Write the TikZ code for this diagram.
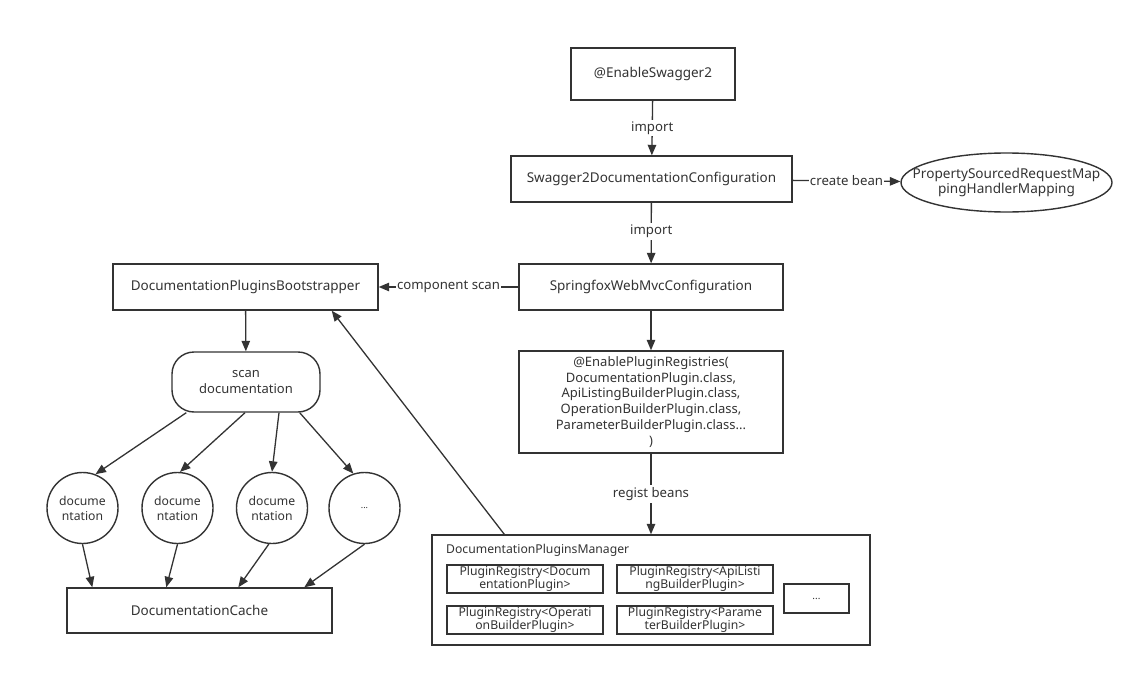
\documentclass[tikz,border=0pt]{standalone}
\usepackage{fontspec}
\setmainfont{Noto Sans}
\usetikzlibrary{arrows.meta,shapes.geometric,calc}
\definecolor{ink}{HTML}{333333}
\tikzset{
  every node/.style={text=ink},
  box/.style={draw=ink,line width=1.4pt,fill=white,minimum height=#1,inner sep=2pt,font=\fontsize{13.5}{16}\selectfont},
  box/.default=46pt,
  smallbox/.style={draw=ink,line width=1.4pt,fill=white,minimum width=156pt,minimum height=28pt,inner sep=1pt,align=center,font=\fontsize{12.2}{12.6}\selectfont},
  circ/.style={draw=ink,line width=1.4pt,circle,minimum size=71pt,inner sep=0pt,align=center,font=\fontsize{12.2}{15}\selectfont},
  arr/.style={draw=ink,line width=1.3pt,-{Triangle[length=10.5pt,width=8.5pt]}},
  lbl/.style={fill=white,inner sep=2pt,font=\fontsize{13.2}{15}\selectfont},
}
\begin{document}
\begin{tikzpicture}[x=1pt,y=-1pt]
\useasboundingbox (0,0) rectangle (1141,677);
% top column
\node[box=52pt,minimum width=164pt] (es) at (653,74) {@EnableSwagger2};
\node[box,minimum width=281pt] (sdc) at (651.5,179) {Swagger2DocumentationConfiguration};
\node[draw=ink,line width=1.4pt,ellipse,minimum width=211pt,minimum height=59pt,inner xsep=-24pt,inner ysep=-6pt,align=center,font=\fontsize{13.6}{15.5}\selectfont] (psr) at (1006.5,182.5) {PropertySourcedRequestMap\\pingHandlerMapping};
\node[box,minimum width=264pt] (swm) at (651,287) {SpringfoxWebMvcConfiguration};
\node[box,minimum width=265pt] (dpb) at (245.5,287) {DocumentationPluginsBootstrapper};
\node[box=102pt,minimum width=264pt,align=center,font=\fontsize{13}{15.9}\selectfont] (epr) at (651,402) {@EnablePluginRegistries(\\DocumentationPlugin.class,\\ApiListingBuilderPlugin.class,\\OperationBuilderPlugin.class,\\ParameterBuilderPlugin.class...\\)};
% manager
\node[draw=ink,line width=1.4pt,minimum width=438pt,minimum height=110pt,inner sep=0pt] (mgr) at (651,590) {};
\node[anchor=west,inner sep=0pt,font=\fontsize{12.2}{14}\selectfont] (mgrl) at (446,550) {DocumentationPluginsManager};
\node[smallbox] (r1) at (525,579) {PluginRegistry<Docum\\entationPlugin>};
\node[smallbox] (r2) at (695,579) {PluginRegistry<ApiListi\\ngBuilderPlugin>};
\node[smallbox] (r3) at (525,620) {PluginRegistry<Operati\\onBuilderPlugin>};
\node[smallbox] (r4) at (695,620) {PluginRegistry<Parame\\terBuilderPlugin>};
\node[smallbox,minimum width=65pt,minimum height=29pt,font=\fontsize{10}{12}\selectfont] (r5) at (816.5,598.5) {...};
% left side
\node[draw=ink,line width=1.4pt,rounded corners=22pt,minimum width=148pt,minimum height=60pt,align=center,font=\fontsize{13}{16}\selectfont] (scan) at (246,382) {scan\\documentation};
\node[circ] (c1) at (82.5,508) {docume\\ntation};
\node[circ] (c2) at (177.5,508) {docume\\ntation};
\node[circ] (c3) at (272,508) {docume\\ntation};
\node[circ,font=\fontsize{9}{11}\selectfont] (c4) at (364.5,508) {...};
\node[box=45pt,minimum width=265pt] (cache) at (199.5,610.5) {DocumentationCache};
% connectors
\draw[arr] (es) -- node[lbl] {import} (sdc);
\draw[arr] (sdc) -- node[lbl,pos=0.47] {import} (swm);
\draw[arr] (sdc) -- node[lbl,inner sep=1pt] {create bean} (psr);
\draw[arr] (swm) -- node[lbl,inner sep=1pt] {component scan} (dpb);
\draw[arr] (swm) -- (epr);
\draw[arr] (epr) -- node[lbl] {regist beans} (mgr);
\draw[arr] ([xshift=73pt]mgr.north west) -- ([xshift=-47pt]dpb.south east);
\draw[arr] (dpb) -- (scan);
\draw[arr] ([xshift=15pt]scan.south west) -- (c1.69);
\draw[arr] ([xshift=-1pt]scan.south) -- (c2.86);
\draw[arr] ([xshift=33pt]scan.south) -- (c3.90);
\draw[arr] ([xshift=-21pt]scan.south east) -- (c4.108);
\draw[arr] (c1.270) -- ([xshift=26pt]cache.north west);
\draw[arr] (c2.270) -- ([xshift=100pt]cache.north west);
\draw[arr] (c3.265) -- ([xshift=172pt]cache.north west);
\draw[arr] (c4.270) -- ([xshift=238pt]cache.north west);
\end{tikzpicture}
\end{document}
